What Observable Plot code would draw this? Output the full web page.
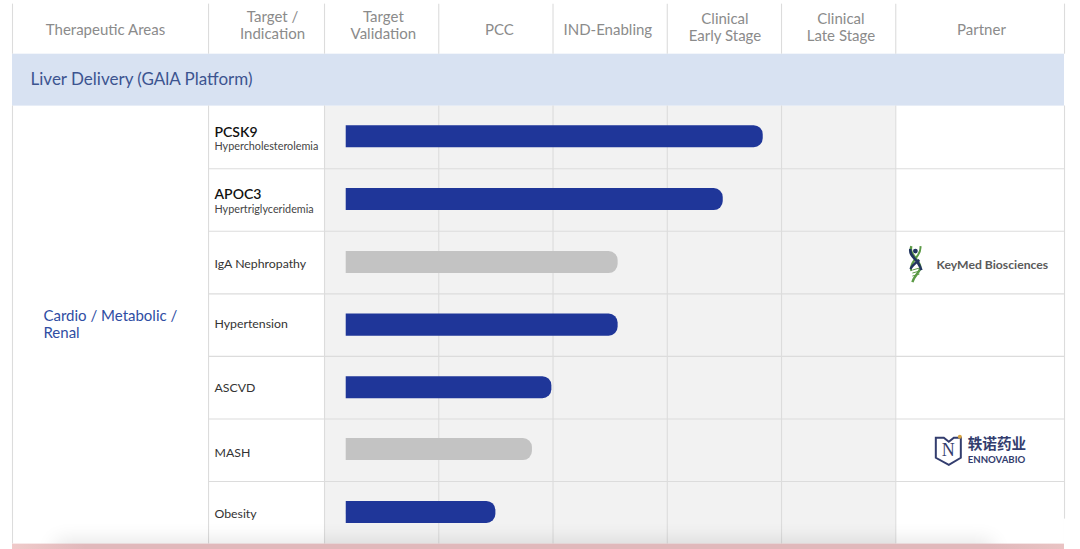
<!DOCTYPE html>
<html>
<head>
<meta charset="utf-8">
<script src="https://cdn.jsdelivr.net/npm/d3@7"></script>
<script src="https://cdn.jsdelivr.net/npm/@observablehq/plot@0.6"></script>
<style>
html,body{margin:0;padding:0;background:#fff}
svg{display:block}
</style>
</head>
<body>
<div id="chart"></div>
<script>
// ---- Data ----
const stages = ["Target\nValidation", "PCC", "IND-Enabling", "Clinical\nEarly Stage", "Clinical\nLate Stage"];
const targets = ["PCSK9", "APOC3", "IgA Nephropathy", "Hypertension", "ASCVD", "MASH", "Obesity"];
const indications = ["Hypercholesterolemia", "Hypertriglyceridemia", "", "", "", "", ""];
const progress = [3.84, 3.49, 2.57, 2.57, 1.99, 1.82, 1.5]; // in stage columns
const partnered = [false, false, true, false, false, true, false];
const areaName = "Cardio / Metabolic /\nRenal";
const platformName = "Liver Delivery (GAlA Platform)";

// ---- Layout in scale units (x: stage columns, y: table rows) ----
const X0 = -2.836, X1 = 6.617, Y0 = -1.688, Y1 = 7.086;
const leftEdge = -2.731, areaEdge = -1.015, rightEdge = 6.477, partnerEdge = 5;
const headerTop = -1.63, headerBottom = -0.83;
const barStart = 0.19, barThickness = 0.352;
const stageNudge = [0.015, 0.03, -0.02, 0.005, 0.02];
const labelNudge = [0, 0, 0.03, -0.01, 0.01, 0.05, 0.02];
const barNudge = [-0.012, -0.006, 0, 0, 0, -0.012, -0.006];
const rows = targets.map((name, i) => ({
  name, sub: indications[i], end: progress[i], partnered: partnered[i], i, mid: i + 0.5
}));
const stageRows = stages.map((label, i) => ({label, x: i + 0.5 + stageNudge[i], multi: label.includes("\n")}));
const columnEdges = d3.range(0, 6);
const BLUE = "#1f3699", GREY = "#c3c3c3", LINE = "#dcdcdc";
const FONT = "Lato, 'Open Sans', sans-serif";

const defs = () => {
  const d = d3.create("svg:defs");
  const g = d.append("linearGradient").attr("id", "pink");
  [[0, "#f0caca"], [0.07, "#e1b8bb"], [0.93, "#e1b8bb"], [1, "#e9c3c3"]].forEach(([o, c]) =>
    g.append("stop").attr("offset", o).attr("stop-color", c));
  return d.node();
};
const shadow = (i, {x, y}) => {
  const s = d3.create("svg:rect")
    .attr("x", x(-2.35)).attr("width", x(5.85) - x(-2.35))
    .attr("y", y(6.95)).attr("height", y(7.5) - y(6.95))
    .attr("fill", "#000").attr("opacity", 0.1)
    .style("filter", "blur(10px)");
  return s.node();
};
const keymed = (i, {x, y}) => {
  const g = d3.create("svg:g").attr("transform", `translate(${x(5.15)},${y(2.5)})`).attr("fill", "none");
  g.append("path").attr("d", "M-1,-16 C-4,-8 7,-3 8,5 C8,10 2,13 0,20").attr("stroke", "#5b9a45").attr("stroke-width", 2.4);
  g.append("path").attr("d", "M8,-16 C9,-10 5,-6 2,-2 C-1,2 -2,6 -1,9").attr("stroke", "#5b9a45").attr("stroke-width", 2);
  g.append("path").attr("d", "M-2,-13 C-3,-8 1,-5 5,0 C7,3 8,5 9,8").attr("stroke", "#22355f").attr("stroke-width", 2.6);
  g.append("path").attr("d", "M7,-2 C3,1 0,3 -2,7").attr("stroke", "#22355f").attr("stroke-width", 2.4);
  g.append("circle").attr("cx", 3).attr("cy", -11).attr("r", 2.4).attr("fill", "#22355f");
  g.selectAll("line.r").data([8, 11, 14]).join("line")
    .attr("x1", 0).attr("x2", 7).attr("y1", d => d).attr("y2", d => d - 2)
    .attr("stroke", "#5b9a45").attr("stroke-width", 1);
  return g.node();
};
const ennova = (i, {x, y}) => {
  const g = d3.create("svg:g").attr("transform", `translate(${x(5.355)},${y(5.5)})`);
  g.append("path").attr("d", "M0,-12 L8,-12 L13,-8 L18,-12 L25,-12 L25,8 L13,15 L0,8 Z")
    .attr("fill", "none").attr("stroke", "#333d6e").attr("stroke-width", 2);
  g.append("text").attr("x", 12.5).attr("y", 6.5).attr("text-anchor", "middle")
    .attr("font-family", "'Liberation Serif', serif").attr("font-size", 18).attr("fill", "#333d6e").text("N");
  g.append("circle").attr("cx", 24).attr("cy", -13).attr("r", 2).attr("fill", "#d9a441");
  return g.node();
};

const barY = {y1: d => d.mid + barNudge[d.i] - barThickness / 2, y2: d => d.mid + barNudge[d.i] + barThickness / 2};

const plot = Plot.plot({
  width: 1080, height: 549,
  margin: 0,
  style: {background: "#fff", fontFamily: FONT},
  x: {type: "linear", domain: [X0, X1], range: [0, 1080], axis: null},
  y: {type: "linear", domain: [Y0, Y1], range: [0, 549], axis: null},
  marks: [
    defs,
    // stage-column background
    Plot.rect([0], {x1: 0, x2: partnerEdge, y1: 0, y2: 7, fill: "#f2f2f2"}),
    // platform band
    Plot.rect([0], {x1: leftEdge, x2: rightEdge, y1: headerBottom, y2: 0, fill: "#d8e2f2"}),
    // vertical rules
    Plot.ruleX([leftEdge, areaEdge, ...columnEdges, rightEdge], {y1: headerTop, y2: headerBottom, stroke: LINE, strokeWidth: 1.1}),
    Plot.ruleX([leftEdge, areaEdge, ...columnEdges, rightEdge], {y1: 0, y2: 7, stroke: LINE, strokeWidth: 1.1}),
    // horizontal rules
    Plot.ruleY(d3.range(1, 7), {x1: areaEdge, x2: rightEdge, stroke: LINE, strokeWidth: 1.1}),
    // header labels
    Plot.text(stageRows.filter(d => !d.multi), {x: "x", y: -1.21, text: "label", fontSize: 15, fill: "#8b8b8b"}),
    Plot.text(stageRows.filter(d => d.multi && d.label.startsWith("Target")), {x: "x", y: -1.3, text: "label", fontSize: 15, lineHeight: 1.13, fill: "#8b8b8b"}),
    Plot.text(stageRows.filter(d => d.multi && !d.label.startsWith("Target")), {x: "x", y: -1.26, text: "label", fontSize: 15, lineHeight: 1.13, fill: "#8b8b8b"}),
    Plot.text(["Therapeutic Areas"], {x: -1.917, y: -1.22, text: d => d, fontSize: 15, fill: "#8b8b8b"}),
    Plot.text(["Target /\nIndication"], {x: -0.455, y: -1.29, text: d => d, fontSize: 15, lineHeight: 1.13, fill: "#8b8b8b"}),
    Plot.text(["Partner"], {x: 5.75, y: -1.22, text: d => d, fontSize: 15, fill: "#8b8b8b"}),
    // band title & area
    Plot.text([platformName], {x: -2.573, y: -0.43, text: d => d, textAnchor: "start", fontSize: 17, fill: "#3c5490"}),
    Plot.text([areaName], {x: -2.46, y: 3.49, text: d => d, textAnchor: "start", fontSize: 15, lineHeight: 1.13, fill: "#2f4da3"}),
    // bars, rounded at the far end
    Plot.rect(rows, {x1: barStart, x2: "end", ...barY, fill: d => d.partnered ? GREY : BLUE, rx2: 9}),
    // row labels
    Plot.text(rows.filter(d => d.sub), {x: -0.963, y: d => d.mid - 0.085, text: "name", textAnchor: "start", fontSize: 14, fontWeight: 600, fill: "#111"}),
    Plot.text(rows.filter(d => d.sub), {x: -0.963, y: d => d.mid + 0.15, text: "sub", textAnchor: "start", fontSize: 10.8, fill: "#444"}),
    Plot.text(rows.filter(d => !d.sub), {x: -0.963, y: d => d.mid + labelNudge[d.i], text: "name", textAnchor: "start", fontSize: 12.3, fill: "#333"}),
    // partner logos
    keymed,
    Plot.text(["KeyMed Biosciences"], {x: 5.357, y: 2.54, text: d => d, textAnchor: "start", fontSize: 12.2, fontWeight: 700, fill: "#5a5a5a"}),
    ennova,
    Plot.text(["轶诺药业"], {x: 5.63, y: 5.4, text: d => d, textAnchor: "start", fontSize: 14.6, fontWeight: 700, fontFamily: "'Noto Sans CJK SC'", fill: "#333d6e"}),
    Plot.text(["ENNOVABIO"], {x: 5.63, y: 5.65, text: d => d, textAnchor: "start", fontSize: 9.6, fontWeight: 700, fill: "#333d6e"}),
    // bottom shadow & next section band
    shadow,
    Plot.rect([0], {x1: leftEdge, x2: rightEdge, y1: 7, y2: Y1, fill: "url(#pink)"}),
    Plot.rect([0], {x1: rightEdge, x2: X1, y1: 6.6, y2: Y1, fill: "#fff"}),
    Plot.rect([0], {x1: X0, x2: leftEdge, y1: 6.6, y2: Y1, fill: "#fff"})
  ]
});
document.getElementById("chart").append(plot);
</script>
</body>
</html>
